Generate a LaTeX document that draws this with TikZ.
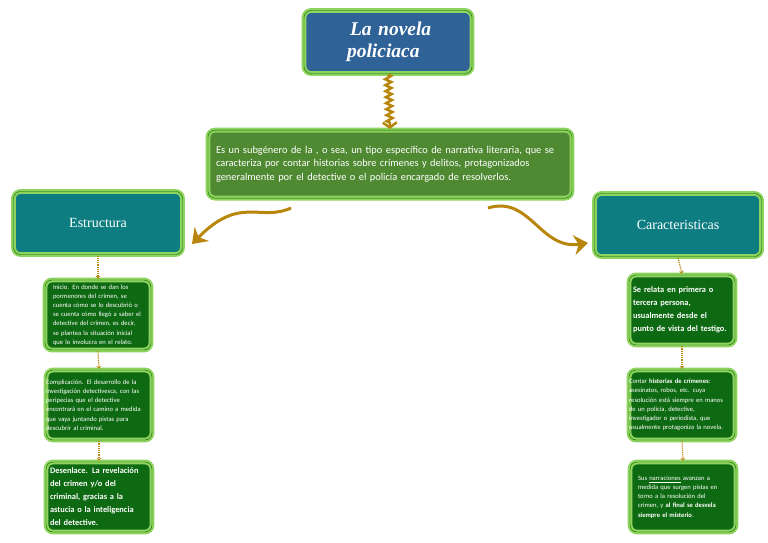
\documentclass[tikz,border=0pt]{standalone}
\usepackage{fontspec}
\setmainfont{Carlito}
\newfontfamily\serifT{Liberation Serif}
\usetikzlibrary{decorations.pathmorphing,arrows.meta}
\definecolor{gold}{HTML}{B8860B}
\definecolor{dgreen}{HTML}{0E6A12}
\definecolor{mgreen}{HTML}{4F8A32}
\definecolor{teal2}{HTML}{0E7D82}
\definecolor{tblue}{HTML}{2F6398}
\definecolor{lgreen}{HTML}{8ED35E}
\tikzset{
 bx/.style={draw=lgreen,line width=2.2pt,rounded corners=7pt,inner sep=2pt,text=white,
   double=green!40!black,double distance=0.4pt},
 sm/.style={bx,fill=dgreen,minimum width=106pt,minimum height=70pt,text width=106pt,inner sep=0pt,align=left,font=\fontsize{6.6}{9.2}\selectfont},
 smb/.style={sm,font=\bfseries\fontsize{8.4}{13}\selectfont},
 dots/.style={gold,densely dotted,line width=1.2pt,-{Stealth[length=3pt,width=5pt,open]}},
 wave/.style={gold,line width=3pt,-{Stealth[length=14pt,width=20pt]}}
}
\begin{document}
\begin{tikzpicture}[x=1pt,y=-1pt]
\useasboundingbox (0,0) rectangle (768,543);
\node[bx,fill=tblue,minimum width=168pt,minimum height=63pt,text width=120pt,align=left,font=\serifT\bfseries\itshape\fontsize{19.5}{22}\selectfont] (t) at (388,42) {\hspace*{22pt}La novela\\ \hspace*{19pt}policiaca};
\node[bx,fill=mgreen,minimum width=364pt,minimum height=68pt,text width=348pt,align=left,anchor=north,font=\fontsize{10.4}{13.5}\selectfont] (m) at (390,129) {Es un subgénero de la , o sea, un tipo específico de narrativa literaria, que se\\ caracteriza por contar historias sobre crímenes y delitos, protagonizados\\ generalmente por el detective o el policía encargado de resolverlos.\\[12pt]};
\node[bx,fill=teal2,minimum width=169pt,minimum height=63pt,font=\serifT\fontsize{14}{16}\selectfont] (e) at (98,223) {Estructura};
\node[bx,fill=teal2,minimum width=167pt,minimum height=63pt,font=\serifT\fontsize{14}{16}\selectfont] (c) at (678,225) {Caracteristicas};
\node[sm] (l1) at (98,315) {\hspace*{8pt}Inicio. En donde se dan los\\ \hspace*{8pt}pormenores del crimen, se\\ \hspace*{8pt}cuenta cómo se lo descubrió o\\ \hspace*{8pt}se cuenta cómo llegó a saber el\\ \hspace*{8pt}detective del crimen, es decir,\\ \hspace*{8pt}se plantea la situación inicial\\ \hspace*{8pt}que lo involucra en el relato.};
\node[sm] (l2) at (99,405) {Complicación. El desarrollo de la\\ investigación detectivesca, con las\\ peripecias que el detective\\ encontrará en el camino a medida\\ que vaya juntando pistas para\\ descubrir al criminal.\\[8pt]};
\node[smb] (l3) at (99,497) {\hspace*{4pt}Desenlace. La revelación\\ \hspace*{4pt}del crimen y/o del\\ \hspace*{4pt}criminal, gracias a la\\ \hspace*{4pt}astucia o la inteligencia\\ \hspace*{4pt}del detective.};
\node[smb] (r1) at (682,310) {\hspace*{4pt}Se relata en primera o\\ \hspace*{4pt}tercera persona,\\ \hspace*{4pt}usualmente desde el\\ \hspace*{4pt}punto de vista del testigo.\\[6pt]};
\node[sm] (r2) at (682,405) {Contar \textbf{historias de crímenes}:\\ asesinatos, robos, etc. cuya\\ resolución está siempre en manos\\ de un policía, detective,\\ investigador o periodista, que\\ usualmente protagoniza la novela.\\[8pt]};
\node[sm] (r3) at (683,497) {\hspace*{8pt}Sus \underline{narraciones} avanzan a\\ \hspace*{8pt}medida que surgen pistas en\\ \hspace*{8pt}torno a la resolución del\\ \hspace*{8pt}crimen, y \textbf{al final se desvela}\\ \hspace*{8pt}\textbf{siempre el misterio}.};
\draw[gold,line width=2.5pt,decorate,decoration={zigzag,amplitude=3pt,segment length=6pt,post length=6pt},-{Straight Barb[length=5pt,width=14pt]}] (t.south) -- (m.north);
\coordinate (wl) at (291,208);
\coordinate (wr) at (488,208);
\coordinate (el) at (192,244);
\coordinate (er) at (588,243);
\draw[wave] (wl) .. controls (260,222) and (240,195) .. (el);
\draw[wave] (wr) .. controls (530,195) and (540,250) .. (er);
\draw[dots] (e.south) -- (l1.north);
\draw[dots] (l1.south) -- (l2.north);
\draw[dots] (l2.south) -- (l3.north);
\draw[dots] (c.south) -- (r1.north);
\draw[dots] (r1.south) -- (r2.north);
\draw[dots] (r2.south) -- (r3.north);
\end{tikzpicture}
\end{document}
